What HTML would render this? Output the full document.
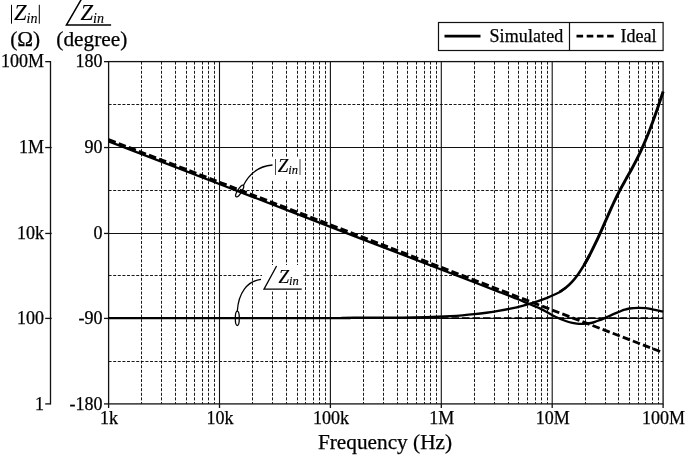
<!DOCTYPE html>
<html><head><meta charset="utf-8"><title>Zin</title>
<style>
html,body{margin:0;padding:0;background:#fff;}
svg{display:block;}
text{font-family:"Liberation Serif",serif;fill:#000;stroke:#000;stroke-width:0.25px;}
.t{font-size:18px;}
.h{font-size:21.3px;}
.i{font-style:italic;stroke-width:0.15px;}
</style></head><body>
<svg width="685" height="456" viewBox="0 0 685 456">
<rect width="685" height="456" fill="#fff"/>

<g stroke="#000" stroke-width="0.9" stroke-dasharray="3 1.6" fill="none">
<line x1="141.50" y1="61.6" x2="141.50" y2="403.9"/>
<line x1="161.50" y1="61.6" x2="161.50" y2="403.9"/>
<line x1="175.50" y1="61.6" x2="175.50" y2="403.9"/>
<line x1="186.50" y1="61.6" x2="186.50" y2="403.9"/>
<line x1="194.50" y1="61.6" x2="194.50" y2="403.9"/>
<line x1="202.50" y1="61.6" x2="202.50" y2="403.9"/>
<line x1="208.50" y1="61.6" x2="208.50" y2="403.9"/>
<line x1="214.50" y1="61.6" x2="214.50" y2="403.9"/>
<line x1="252.50" y1="61.6" x2="252.50" y2="403.9"/>
<line x1="272.50" y1="61.6" x2="272.50" y2="403.9"/>
<line x1="286.50" y1="61.6" x2="286.50" y2="403.9"/>
<line x1="297.50" y1="61.6" x2="297.50" y2="403.9"/>
<line x1="305.50" y1="61.6" x2="305.50" y2="403.9"/>
<line x1="313.50" y1="61.6" x2="313.50" y2="403.9"/>
<line x1="319.50" y1="61.6" x2="319.50" y2="403.9"/>
<line x1="325.50" y1="61.6" x2="325.50" y2="403.9"/>
<line x1="363.50" y1="61.6" x2="363.50" y2="403.9"/>
<line x1="383.50" y1="61.6" x2="383.50" y2="403.9"/>
<line x1="397.50" y1="61.6" x2="397.50" y2="403.9"/>
<line x1="407.50" y1="61.6" x2="407.50" y2="403.9"/>
<line x1="416.50" y1="61.6" x2="416.50" y2="403.9"/>
<line x1="424.50" y1="61.6" x2="424.50" y2="403.9"/>
<line x1="430.50" y1="61.6" x2="430.50" y2="403.9"/>
<line x1="436.50" y1="61.6" x2="436.50" y2="403.9"/>
<line x1="474.50" y1="61.6" x2="474.50" y2="403.9"/>
<line x1="494.50" y1="61.6" x2="494.50" y2="403.9"/>
<line x1="508.50" y1="61.6" x2="508.50" y2="403.9"/>
<line x1="518.50" y1="61.6" x2="518.50" y2="403.9"/>
<line x1="527.50" y1="61.6" x2="527.50" y2="403.9"/>
<line x1="535.50" y1="61.6" x2="535.50" y2="403.9"/>
<line x1="541.50" y1="61.6" x2="541.50" y2="403.9"/>
<line x1="547.50" y1="61.6" x2="547.50" y2="403.9"/>
<line x1="585.50" y1="61.6" x2="585.50" y2="403.9"/>
<line x1="605.50" y1="61.6" x2="605.50" y2="403.9"/>
<line x1="618.50" y1="61.6" x2="618.50" y2="403.9"/>
<line x1="629.50" y1="61.6" x2="629.50" y2="403.9"/>
<line x1="638.50" y1="61.6" x2="638.50" y2="403.9"/>
<line x1="645.50" y1="61.6" x2="645.50" y2="403.9"/>
<line x1="652.50" y1="61.6" x2="652.50" y2="403.9"/>
<line x1="658.50" y1="61.6" x2="658.50" y2="403.9"/>
<line x1="108.6" y1="104.50" x2="663.1" y2="104.50"/>
<line x1="108.6" y1="190.50" x2="663.1" y2="190.50"/>
<line x1="108.6" y1="275.50" x2="663.1" y2="275.50"/>
<line x1="108.6" y1="361.50" x2="663.1" y2="361.50"/>
</g>
<g stroke="#111" stroke-width="1.1" fill="none">
<line x1="219.50" y1="61.6" x2="219.50" y2="403.9"/>
<line x1="330.40" y1="61.6" x2="330.40" y2="403.9"/>
<line x1="441.30" y1="61.6" x2="441.30" y2="403.9"/>
<line x1="552.20" y1="61.6" x2="552.20" y2="403.9"/>
<line x1="108.6" y1="147.55" x2="663.1" y2="147.55"/>
<line x1="108.6" y1="233.45" x2="663.1" y2="233.45"/>
<line x1="108.6" y1="318.40" x2="663.1" y2="318.40"/>
</g>
<g stroke="#111" stroke-width="1.3" fill="none">
<rect x="108.6" y="61.6" width="554.50" height="342.30"/>
<line x1="104.0" y1="61.65" x2="108.6" y2="61.65"/>
<line x1="45.2" y1="61.65" x2="50.5" y2="61.65"/>
<line x1="104.0" y1="147.55" x2="108.6" y2="147.55"/>
<line x1="45.2" y1="147.55" x2="51.7" y2="147.55"/>
<line x1="104.0" y1="233.45" x2="108.6" y2="233.45"/>
<line x1="45.2" y1="233.45" x2="51.7" y2="233.45"/>
<line x1="104.0" y1="318.40" x2="108.6" y2="318.40"/>
<line x1="45.2" y1="318.40" x2="51.7" y2="318.40"/>
<line x1="104.0" y1="403.90" x2="108.6" y2="403.90"/>
<line x1="45.2" y1="403.90" x2="50.5" y2="403.90"/>
<line x1="50.5" y1="60.95" x2="50.5" y2="404.54999999999995"/>
<line x1="108.60" y1="403.9" x2="108.60" y2="408.0"/>
<line x1="219.50" y1="403.9" x2="219.50" y2="408.0"/>
<line x1="330.40" y1="403.9" x2="330.40" y2="408.0"/>
<line x1="441.30" y1="403.9" x2="441.30" y2="408.0"/>
<line x1="552.20" y1="403.9" x2="552.20" y2="408.0"/>
<line x1="663.10" y1="403.9" x2="663.10" y2="408.0"/>
</g>
<g stroke="#000" fill="none" stroke-linejoin="round">
<path d="M108.60 141.34 C140.50 153.64 238.10 191.26 300.00 215.12 C361.90 238.99 446.67 271.66 480.00 284.51 C513.33 297.36 494.00 289.89 500.00 292.22 C506.00 294.55 511.00 296.48 516.00 298.49 C521.00 300.50 526.00 302.65 530.00 304.30 C534.00 305.95 536.28 306.58 540.00 308.40 C543.72 310.22 548.90 313.43 552.30 315.20 C555.70 316.97 557.68 317.87 560.40 319.00 C563.12 320.13 565.87 321.23 568.60 322.00 C571.33 322.77 574.42 323.28 576.80 323.60 C579.18 323.92 580.52 324.00 582.90 323.90 C585.28 323.80 588.72 323.48 591.10 323.00 C593.48 322.52 594.93 321.82 597.20 321.00 C599.47 320.18 602.18 319.17 604.70 318.10 C607.22 317.03 609.85 315.67 612.30 314.60 C614.75 313.53 617.37 312.52 619.40 311.70 C621.43 310.88 622.83 310.23 624.50 309.70 C626.17 309.17 627.10 308.82 629.40 308.50 C631.70 308.18 635.62 307.87 638.30 307.80 C640.98 307.73 643.28 307.88 645.50 308.10 C647.72 308.32 649.57 308.72 651.60 309.10 C653.63 309.48 655.78 309.98 657.70 310.40 C659.62 310.82 662.20 311.40 663.10 311.60" stroke-width="2.3"/>
<path d="M108.60 318.10 C145.57 318.10 291.43 318.14 330.40 318.09 C369.37 318.05 338.40 317.90 342.40 317.84 C346.40 317.77 350.40 317.73 354.40 317.70 C358.40 317.67 362.40 317.66 366.40 317.65 C370.40 317.63 374.40 317.64 378.40 317.63 C382.40 317.63 386.40 317.63 390.40 317.62 C394.40 317.61 398.40 317.59 402.40 317.56 C406.40 317.53 410.40 317.49 414.40 317.43 C418.40 317.37 422.40 317.29 426.40 317.18 C430.40 317.07 434.40 316.94 438.40 316.77 C442.40 316.60 446.40 316.40 450.40 316.15 C454.40 315.91 458.40 315.63 462.40 315.30 C466.40 314.97 470.40 314.60 474.40 314.18 C478.40 313.75 482.40 313.27 486.40 312.73 C490.40 312.18 494.40 311.59 498.40 310.92 C502.40 310.24 506.40 309.52 510.40 308.67 C514.40 307.83 518.40 306.92 522.40 305.86 C526.40 304.81 530.40 303.65 534.40 302.35 C538.40 301.06 542.40 299.70 546.40 298.10 C550.40 296.50 556.13 293.79 558.40 292.75 C560.67 291.70 558.73 292.68 560.00 291.81 C561.27 290.95 564.00 289.23 566.00 287.57" stroke-width="2.35"/>
<path d="M560.00 291.81 C561.27 290.95 564.00 289.23 566.00 287.57 C568.00 285.92 570.00 284.07 572.00 281.89 C574.00 279.70 576.00 277.23 578.00 274.45 C580.00 271.66 582.00 268.53 584.00 265.18 C586.00 261.82 588.00 258.14 590.00 254.31" stroke-width="2.6"/>
<path d="M584.00 265.18 C586.00 261.82 588.00 258.14 590.00 254.31 C592.00 250.47 594.00 246.37 596.00 242.16 C598.00 237.95 600.00 233.49 602.00 229.05 C604.00 224.60 606.00 219.96 608.00 215.48 C610.00 211.00 612.00 206.42 614.00 202.18 C616.00 197.93 618.00 193.86 620.00 190.02 C622.00 186.18 624.00 182.72 626.00 179.14 C628.00 175.55 630.00 172.18 632.00 168.49 C634.00 164.79 636.00 161.05 638.00 156.94 C640.00 152.84 642.00 148.50 644.00 143.87 C646.00 139.24 648.00 134.34 650.00 129.16 C652.00 123.98 654.00 118.49 656.00 112.78 C658.00 107.08 660.82 98.47 662.00 94.92 C663.18 91.38 662.92 92.08 663.10 91.51" stroke-width="2.95"/>
<path d="M108.6 139.64 L661 351.82" stroke-width="2.9" stroke-dasharray="7.6 3.2"/>
<path d="M441 318.1 L663 318.1" stroke-width="1.8" stroke-dasharray="7.5 3"/>
</g>
<rect x="271.3" y="157" width="31" height="23.5" fill="#fff"/>
<rect x="262" y="265" width="41.5" height="26" fill="#fff"/>
<g stroke="#000" fill="none" stroke-width="1.3">
<ellipse cx="239.7" cy="191" rx="6.8" ry="2" transform="rotate(-58 239.7 191)"/>
<path d="M243 186.2 C249 174 258 166 272.5 165"/>
<ellipse cx="237.3" cy="318.3" rx="2" ry="7.2"/>
<path d="M237.3 311 C238.5 293 247 281 261 279.4"/>
</g>
<g stroke="#000" fill="none" stroke-width="1">
<path d="M275.5 159 V175 M300 159 V175" stroke="#333" stroke-width="0.9"/>
<path d="M276.6 266 L264 289.1 H301.7" stroke-width="1.3"/>
<path d="M81.8 -1.5 L66.4 25 H111.1" stroke-width="1.5"/>
<path d="M11.5 4.8 V23.7 M39.3 4.8 V23.7" stroke-width="1"/>
</g>
<text class="i" font-size="19" x="277.7" y="171.7">Z<tspan font-size="12.5" dy="2.3">in</tspan></text>
<text class="i" font-size="19" x="278.5" y="282.5">Z<tspan font-size="12.5" dy="2.3">in</tspan></text>
<text class="i" font-size="22.5" x="14" y="19.6">Z<tspan font-size="14" dy="3.1">in</tspan></text>
<text class="i" font-size="22.5" x="80.5" y="19.6">Z<tspan font-size="14" dy="3.1">in</tspan></text>
<text class="h" x="25.2" y="46" text-anchor="middle">(Ω)</text>
<text class="h" x="91.8" y="46" text-anchor="middle">(degree)</text>

<text class="t" x="44" y="67.40" text-anchor="end">100M</text>
<text class="t" x="44" y="152.97" text-anchor="end">1M</text>
<text class="t" x="44" y="238.55" text-anchor="end">10k</text>
<text class="t" x="44" y="324.12" text-anchor="end">100</text>
<text class="t" x="44" y="409.70" text-anchor="end">1</text>
<text class="t" x="102.5" y="67.40" text-anchor="end">180</text>
<text class="t" x="102.5" y="152.97" text-anchor="end">90</text>
<text class="t" x="102.5" y="238.55" text-anchor="end">0</text>
<text class="t" x="102.5" y="324.12" text-anchor="end">-90</text>
<text class="t" x="102.5" y="409.70" text-anchor="end">-180</text>
<text class="t" x="109.10" y="424.1" text-anchor="middle">1k</text>
<text class="t" x="220.00" y="424.1" text-anchor="middle">10k</text>
<text class="t" x="330.90" y="424.1" text-anchor="middle">100k</text>
<text class="t" x="441.80" y="424.1" text-anchor="middle">1M</text>
<text class="t" x="552.70" y="424.1" text-anchor="middle">10M</text>
<text class="t" x="663.60" y="424.1" text-anchor="middle">100M</text>
<text class="h" x="385" y="448.8" text-anchor="middle">Frequency (Hz)</text>
<g stroke="#111" fill="none">
<rect x="438.5" y="22.5" width="224.6" height="28" stroke-width="1.2" fill="#fff"/>
<line x1="569.5" y1="22.5" x2="569.5" y2="50.5" stroke-width="1.2"/>
<line x1="444.5" y1="36.2" x2="480.5" y2="36.2" stroke-width="2.8" stroke="#000"/>
<line x1="576.5" y1="36.2" x2="614" y2="36.2" stroke-width="2.8" stroke-dasharray="6.6 3.6" stroke="#000"/>
</g>
<text class="t" x="489.5" y="41.5" letter-spacing="0.1">Simulated</text>
<text class="t" x="620.5" y="41.5">Ideal</text>
</svg>
</body></html>
